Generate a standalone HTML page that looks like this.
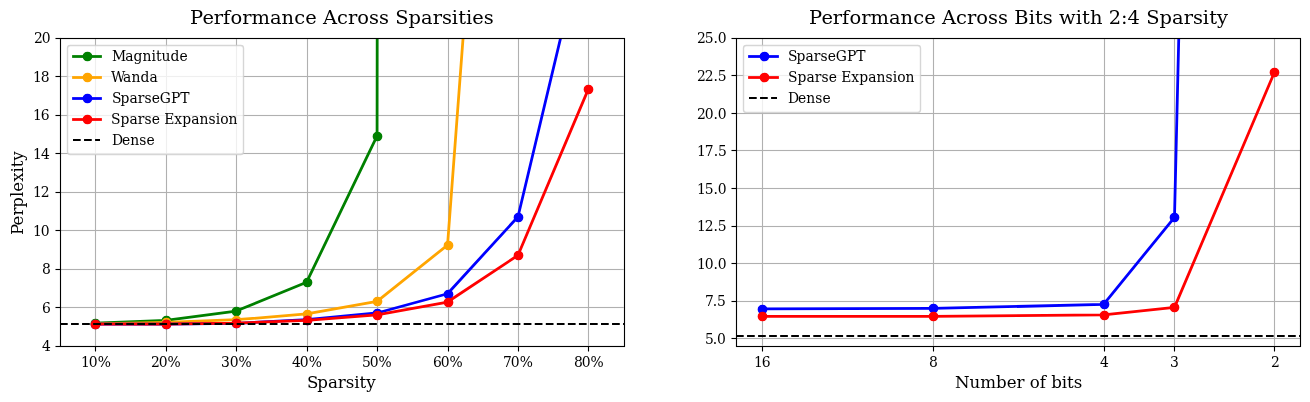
<!DOCTYPE html>
<html lang="en">
<head>
<meta charset="utf-8">
<title>Performance Across Sparsities</title>
<style>
html,body{margin:0;padding:0;background:#ffffff;}
body{width:1310px;height:402px;overflow:hidden;font-family:"DejaVu Serif","Liberation Serif",serif;}
svg{display:block;}
svg text{white-space:pre;}
</style>
</head>
<body>
<svg width="1310" height="402" viewBox="0 0 1310 402" font-family="'DejaVu Serif', 'Liberation Serif', serif" fill="#000000">
<rect x="0" y="0" width="1310" height="402" fill="#ffffff"/>
<defs>
<clipPath id="clip0"><rect x="60" y="38" width="564" height="308"/></clipPath>
<clipPath id="clip1"><rect x="736" y="38" width="564" height="308"/></clipPath>
</defs>
<g id="axes1">
<g clip-path="url(#clip0)" stroke="#b0b0b0" stroke-width="1.111" fill="none">
<path d="M60.028 346.5H623.664M60.028 307.5H623.664M60.028 269.5H623.664M60.028 230.5H623.664M60.028 192.5H623.664M60.028 153.5H623.664M60.028 115.5H623.664M60.028 76.5H623.664M60.028 38.5H623.664" stroke-width="3" stroke-opacity="0.056"/>
<path d="M95.5 37.722V345.722M166.5 37.722V345.722M236.5 37.722V345.722M307.5 37.722V345.722M377.5 37.722V345.722M448.5 37.722V345.722M518.5 37.722V345.722M588.5 37.722V345.722M60.028 346.5H623.664M60.028 307.5H623.664M60.028 269.5H623.664M60.028 230.5H623.664M60.028 192.5H623.664M60.028 153.5H623.664M60.028 115.5H623.664M60.028 76.5H623.664M60.028 38.5H623.664"/></g>
<path d="M60.5 346.5h-5M60.5 307.5h-5M60.5 269.5h-5M60.5 230.5h-5M60.5 192.5h-5M60.5 153.5h-5M60.5 115.5h-5M60.5 76.5h-5M60.5 38.5h-5" stroke="#000000" stroke-width="3" stroke-opacity="0.056" fill="none"/>
<path d="M95.5 346.5v5M166.5 346.5v5M236.5 346.5v5M307.5 346.5v5M377.5 346.5v5M448.5 346.5v5M518.5 346.5v5M588.5 346.5v5M60.5 346.5h-5M60.5 307.5h-5M60.5 269.5h-5M60.5 230.5h-5M60.5 192.5h-5M60.5 153.5h-5M60.5 115.5h-5M60.5 76.5h-5M60.5 38.5h-5" stroke="#000000" stroke-width="1.111" fill="none"/>
<g class="ticklabels">
<text x="81.071 88.696 97.696" y="366.835" font-size="13.889">10%</text>
<text x="150.984 158.734 167.484" y="366.922" font-size="13.889">20%</text>
<text x="221.05 229.8 238.55" y="366.718" font-size="13.889">30%</text>
<text x="292.12 299.745 308.745" y="366.682" font-size="13.889">40%</text>
<text x="362.049 369.799 378.549" y="366.721" font-size="13.889">50%</text>
<text x="432.938 440.688 449.438" y="366.514" font-size="13.889">60%</text>
<text x="503.08 510.705 519.705" y="366.56" font-size="13.889">70%</text>
<text x="573.969 581.719 590.469" y="366.93" font-size="13.889">80%</text>
<text x="41.987" y="350.85" font-size="13.889">4</text>
<text x="41.971" y="312.525" font-size="13.889">6</text>
<text x="42.111" y="273.887" font-size="13.889">8</text>
<text x="33.015 40.64" y="235.717" font-size="13.889">10</text>
<text x="32.966 40.841" y="196.727" font-size="13.889">12</text>
<text x="33.018 40.893" y="158.967" font-size="13.889">14</text>
<text x="33.061 40.686" y="119.687" font-size="13.889">16</text>
<text x="33.086 40.711" y="81.897" font-size="13.889">18</text>
<text x="33.956 41.706" y="42.852" font-size="13.889">20</text>
</g>
<g clip-path="url(#clip0)" fill="none" stroke-linejoin="round">
<path d="M95.255 323.2L165.71 320.312L236.164 311.072L306.619 282.197L377.073 135.897L377.267 -22.278" stroke="#008000" stroke-width="2.778" stroke-linecap="square"/>
<circle cx="95.5" cy="323.5" r="4.167" fill="#008000" stroke="#008000" stroke-width="1.389"/>
<circle cx="166.5" cy="320.5" r="4.167" fill="#008000" stroke="#008000" stroke-width="1.389"/>
<circle cx="236.5" cy="311.5" r="4.167" fill="#008000" stroke="#008000" stroke-width="1.389"/>
<circle cx="307.5" cy="282.5" r="4.167" fill="#008000" stroke="#008000" stroke-width="1.389"/>
<circle cx="377.5" cy="136.5" r="4.167" fill="#008000" stroke="#008000" stroke-width="1.389"/>
<path d="M95.255 323.777L165.71 322.43L236.164 319.735L306.619 313.96L377.073 301.447L447.528 245.045L467.589 -22.278" stroke="#ffa500" stroke-width="2.778" stroke-linecap="square"/>
<circle cx="95.5" cy="324.5" r="4.167" fill="#ffa500" stroke="#ffa500" stroke-width="1.389"/>
<circle cx="166.5" cy="322.5" r="4.167" fill="#ffa500" stroke="#ffa500" stroke-width="1.389"/>
<circle cx="236.5" cy="320.5" r="4.167" fill="#ffa500" stroke="#ffa500" stroke-width="1.389"/>
<circle cx="307.5" cy="314.5" r="4.167" fill="#ffa500" stroke="#ffa500" stroke-width="1.389"/>
<circle cx="377.5" cy="301.5" r="4.167" fill="#ffa500" stroke="#ffa500" stroke-width="1.389"/>
<circle cx="448.5" cy="245.5" r="4.167" fill="#ffa500" stroke="#ffa500" stroke-width="1.389"/>
<path d="M95.255 324.162L165.71 324.162L236.164 323.392L306.619 319.735L377.073 312.997L447.528 293.747L517.982 216.747L574.974 -22.278" stroke="#0000ff" stroke-width="2.778" stroke-linecap="square"/>
<circle cx="95.5" cy="324.5" r="4.167" fill="#0000ff" stroke="#0000ff" stroke-width="1.389"/>
<circle cx="166.5" cy="324.5" r="4.167" fill="#0000ff" stroke="#0000ff" stroke-width="1.389"/>
<circle cx="236.5" cy="323.5" r="4.167" fill="#0000ff" stroke="#0000ff" stroke-width="1.389"/>
<circle cx="307.5" cy="320.5" r="4.167" fill="#0000ff" stroke="#0000ff" stroke-width="1.389"/>
<circle cx="377.5" cy="313.5" r="4.167" fill="#0000ff" stroke="#0000ff" stroke-width="1.389"/>
<circle cx="448.5" cy="294.5" r="4.167" fill="#0000ff" stroke="#0000ff" stroke-width="1.389"/>
<circle cx="518.5" cy="217.5" r="4.167" fill="#0000ff" stroke="#0000ff" stroke-width="1.389"/>
<path d="M95.255 324.162L165.71 324.162L236.164 323.2L306.619 320.312L377.073 314.922L447.528 302.025L517.982 255.247L588.437 88.927" stroke="#ff0000" stroke-width="2.778" stroke-linecap="square"/>
<circle cx="95.5" cy="324.5" r="4.167" fill="#ff0000" stroke="#ff0000" stroke-width="1.389"/>
<circle cx="166.5" cy="324.5" r="4.167" fill="#ff0000" stroke="#ff0000" stroke-width="1.389"/>
<circle cx="236.5" cy="323.5" r="4.167" fill="#ff0000" stroke="#ff0000" stroke-width="1.389"/>
<circle cx="307.5" cy="320.5" r="4.167" fill="#ff0000" stroke="#ff0000" stroke-width="1.389"/>
<circle cx="377.5" cy="315.5" r="4.167" fill="#ff0000" stroke="#ff0000" stroke-width="1.389"/>
<circle cx="448.5" cy="302.5" r="4.167" fill="#ff0000" stroke="#ff0000" stroke-width="1.389"/>
<circle cx="518.5" cy="255.5" r="4.167" fill="#ff0000" stroke="#ff0000" stroke-width="1.389"/>
<circle cx="588.5" cy="89.5" r="4.167" fill="#ff0000" stroke="#ff0000" stroke-width="1.389"/>
<path d="M60 324H624" stroke="#000000" stroke-width="2.083" stroke-dasharray="7.708 3.333"/>
</g>
<path d="M59.944 38.5H625.056M59.944 346.5H625.056" stroke="#000000" stroke-width="3" stroke-opacity="0.056" fill="none"/>
<path d="M60.5 38.5V346.5M624.5 38.5V346.5M60.5 346.5H624.5M60.5 38.5H624.5" stroke="#000000" stroke-width="1.111" stroke-linecap="square" fill="none"/>
<text x="306.9 317.275 327.9 337.775 345.775 354.275 359.525 366.15" y="387.769" font-size="16.667">Sparsity</text>
<text transform="translate(22.725 235.904) rotate(-90)" x="1 10.5 20.375 28.125 39 44.25 54.125 63.5 68.75 75.125" y="0" font-size="16.667">Perplexity</text>
<text x="190.12 202.495 213.745 222.995 230.495 242.245 251.495 269.995 281.62 294.245 305.245 316.745 322.995 337.12 348.12 357.37 369.12 379.12 389.12 395.37 408.62 421.12 432.745 441.995 451.745 458.245 466.12 472.37 483.87" y="23.795" font-size="19.444">Performance Across Sparsities</text>
<g class="legend">
<rect x="67.5" y="45.5" width="176" height="109" rx="2.778" ry="2.778" fill="#ffffff" fill-opacity="0.8" stroke="#cccccc" stroke-opacity="0.8" stroke-width="1.389"/>
<path d="M73.5 56.5H100.5" stroke="#008000" stroke-width="2.778" stroke-linecap="square" fill="none"/>
<circle cx="87.5" cy="56.5" r="4.167" fill="#008000" stroke="#008000" stroke-width="1.389"/>
<path d="M73.5 77.5H100.5" stroke="#ffa500" stroke-width="2.778" stroke-linecap="square" fill="none"/>
<circle cx="87.5" cy="77.5" r="4.167" fill="#ffa500" stroke="#ffa500" stroke-width="1.389"/>
<path d="M73.5 98.5H100.5" stroke="#0000ff" stroke-width="2.778" stroke-linecap="square" fill="none"/>
<circle cx="87.5" cy="98.5" r="4.167" fill="#0000ff" stroke="#0000ff" stroke-width="1.389"/>
<path d="M73.5 119.5H100.5" stroke="#ff0000" stroke-width="2.778" stroke-linecap="square" fill="none"/>
<circle cx="87.5" cy="119.5" r="4.167" fill="#ff0000" stroke="#ff0000" stroke-width="1.389"/>
<path d="M73 140H100" stroke="#000000" stroke-width="2.083" stroke-dasharray="7.708 3.333" fill="none"/>
<text x="112.097 125.222 133.597 142.597 151.597 156.097 161.597 170.597 179.597" y="60.866" font-size="13.889">Magnitude</text>
<text x="111.106 123.106 131.481 140.481 149.481" y="81.539" font-size="13.889">Wanda</text>
<text x="111.899 120.399 129.524 137.649 144.399 151.774 159.774 170.899 180.149" y="102.843" font-size="13.889">SparseGPT</text>
<text x="110.932 120.432 129.557 137.682 144.432 151.807 159.807 164.182 174.307 182.182 191.307 199.432 208.432 215.807 220.307 228.432" y="123.938" font-size="13.889">Sparse Expansion</text>
<text x="111.927 121.927 130.177 139.177 146.552" y="144.74" font-size="13.889">Dense</text>
</g>
</g>
<g id="axes2">
<g clip-path="url(#clip1)" stroke="#b0b0b0" stroke-width="1.111" fill="none">
<path d="M736.391 338.5H1300.028M736.391 301.5H1300.028M736.391 263.5H1300.028M736.391 226.5H1300.028M736.391 188.5H1300.028M736.391 150.5H1300.028M736.391 113.5H1300.028M736.391 75.5H1300.028M736.391 38.5H1300.028" stroke-width="3" stroke-opacity="0.056"/>
<path d="M762.5 37.722V345.722M933.5 37.722V345.722M1104.5 37.722V345.722M1174.5 37.722V345.722M1274.5 37.722V345.722M736.391 338.5H1300.028M736.391 301.5H1300.028M736.391 263.5H1300.028M736.391 226.5H1300.028M736.391 188.5H1300.028M736.391 150.5H1300.028M736.391 113.5H1300.028M736.391 75.5H1300.028M736.391 38.5H1300.028"/></g>
<path d="M736.5 338.5h-5M736.5 301.5h-5M736.5 263.5h-5M736.5 226.5h-5M736.5 188.5h-5M736.5 150.5h-5M736.5 113.5h-5M736.5 75.5h-5M736.5 38.5h-5" stroke="#000000" stroke-width="3" stroke-opacity="0.056" fill="none"/>
<path d="M762.5 346.5v5M933.5 346.5v5M1104.5 346.5v5M1174.5 346.5v5M1274.5 346.5v5M736.5 338.5h-5M736.5 301.5h-5M736.5 263.5h-5M736.5 226.5h-5M736.5 188.5h-5M736.5 150.5h-5M736.5 113.5h-5M736.5 75.5h-5M736.5 38.5h-5" stroke="#000000" stroke-width="1.111" fill="none"/>
<g class="ticklabels">
<text x="754.027 761.652" y="366.593" font-size="13.889">16</text>
<text x="928.99" y="366.609" font-size="13.889">8</text>
<text x="1099.921" y="366.515" font-size="13.889">4</text>
<text x="1169.993" y="366.551" font-size="13.889">3</text>
<text x="1271.038" y="366.779" font-size="13.889">2</text>
<text x="704.96 712.71 716.96" y="343.927" font-size="13.889">5.0</text>
<text x="704.89 712.765 717.015" y="305.918" font-size="13.889">7.5</text>
<text x="696.89 704.765 713.515 717.765" y="268.508" font-size="13.889">10.0</text>
<text x="696.987 704.862 713.612 717.862" y="230.609" font-size="13.889">12.5</text>
<text x="697.029 704.654 713.404 717.654" y="193.906" font-size="13.889">15.0</text>
<text x="697.059 704.684 713.809 718.059" y="155.825" font-size="13.889">17.5</text>
<text x="696.948 704.698 713.448 717.698" y="118.537" font-size="13.889">20.0</text>
<text x="697.087 704.837 713.587 717.837" y="80.876" font-size="13.889">22.5</text>
<text x="696.951 704.701 713.451 717.701" y="42.516" font-size="13.889">25.0</text>
</g>
<g clip-path="url(#clip1)" fill="none" stroke-linejoin="round">
<path d="M762.011 308.912L932.81 308.462L1103.609 304.405L1174.497 217.264L1180.187 -22.278" stroke="#0000ff" stroke-width="2.778" stroke-linecap="square"/>
<circle cx="762.5" cy="309.5" r="4.167" fill="#0000ff" stroke="#0000ff" stroke-width="1.389"/>
<circle cx="933.5" cy="308.5" r="4.167" fill="#0000ff" stroke="#0000ff" stroke-width="1.389"/>
<circle cx="1104.5" cy="304.5" r="4.167" fill="#0000ff" stroke="#0000ff" stroke-width="1.389"/>
<circle cx="1174.5" cy="217.5" r="4.167" fill="#0000ff" stroke="#0000ff" stroke-width="1.389"/>
<path d="M762.011 316.425L932.81 316.425L1103.609 314.922L1174.497 307.41L1274.408 72.278" stroke="#ff0000" stroke-width="2.778" stroke-linecap="square"/>
<circle cx="762.5" cy="316.5" r="4.167" fill="#ff0000" stroke="#ff0000" stroke-width="1.389"/>
<circle cx="933.5" cy="316.5" r="4.167" fill="#ff0000" stroke="#ff0000" stroke-width="1.389"/>
<circle cx="1104.5" cy="315.5" r="4.167" fill="#ff0000" stroke="#ff0000" stroke-width="1.389"/>
<circle cx="1174.5" cy="307.5" r="4.167" fill="#ff0000" stroke="#ff0000" stroke-width="1.389"/>
<circle cx="1274.5" cy="72.5" r="4.167" fill="#ff0000" stroke="#ff0000" stroke-width="1.389"/>
<path d="M736 336H1300" stroke="#000000" stroke-width="2.083" stroke-dasharray="7.708 3.333"/>
</g>
<path d="M735.944 38.5H1301.056M735.944 346.5H1301.056" stroke="#000000" stroke-width="3" stroke-opacity="0.056" fill="none"/>
<path d="M736.5 38.5V346.5M1300.5 38.5V346.5M736.5 346.5H1300.5M736.5 38.5H1300.5" stroke="#000000" stroke-width="1.111" stroke-linecap="square" fill="none"/>
<text x="954.94 969.565 980.19 995.94 1006.815 1016.44 1024.44 1029.69 1039.815 1045.94 1051.19 1061.815 1067.065 1073.69" y="387.881" font-size="16.667">Number of bits</text>
<text x="808.994 821.619 832.869 842.119 849.619 861.369 870.619 889.119 900.494 913.369 924.369 935.619 942.119 955.994 966.994 976.244 987.994 997.994 1007.994 1014.244 1028.869 1035.119 1042.744 1052.744 1058.994 1075.744 1081.994 1090.119 1102.494 1108.744 1121.119 1127.619 1139.994 1146.244 1159.494 1171.994 1183.869 1193.119 1202.869 1209.369 1216.994" y="23.743" font-size="19.444">Performance Across Bits with 2:4 Sparsity</text>
<g class="legend">
<rect x="743.5" y="45.5" width="177" height="67" rx="2.778" ry="2.778" fill="#ffffff" fill-opacity="0.8" stroke="#cccccc" stroke-opacity="0.8" stroke-width="1.389"/>
<path d="M749.5 56.5H777.5" stroke="#0000ff" stroke-width="2.778" stroke-linecap="square" fill="none"/>
<circle cx="764.5" cy="56.5" r="4.167" fill="#0000ff" stroke="#0000ff" stroke-width="1.389"/>
<path d="M749.5 77.5H777.5" stroke="#ff0000" stroke-width="2.778" stroke-linecap="square" fill="none"/>
<circle cx="764.5" cy="77.5" r="4.167" fill="#ff0000" stroke="#ff0000" stroke-width="1.389"/>
<path d="M749 98H777" stroke="#000000" stroke-width="2.083" stroke-dasharray="7.708 3.333" fill="none"/>
<text x="788.024 796.524 805.399 813.774 820.524 827.649 835.649 847.024 856.274" y="60.892" font-size="13.889">SparseGPT</text>
<text x="787.936 797.436 806.561 814.686 821.436 828.811 836.811 841.186 851.311 859.186 868.311 876.436 885.436 892.811 897.311 905.436" y="81.598" font-size="13.889">Sparse Expansion</text>
<text x="787.921 797.921 806.171 815.171 822.546" y="102.682" font-size="13.889">Dense</text>
</g>
</g>
</svg>
</body>
</html>
